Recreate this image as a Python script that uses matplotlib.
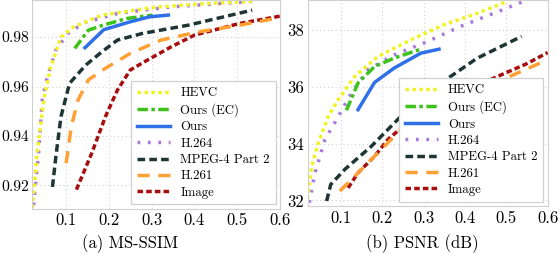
import matplotlib
matplotlib.use('Agg')
import matplotlib.pyplot as plt

plt.rcParams['font.family'] = ['cmr10', 'DejaVu Serif']
plt.rcParams['axes.formatter.use_mathtext'] = True

# MS-SSIM panel
ssim_hevc_x = [0.021, 0.032, 0.048, 0.064, 0.088, 0.116, 0.184, 0.303, 0.42, 0.54]
ssim_hevc_y = [0.911, 0.933, 0.955, 0.968, 0.980, 0.984, 0.9889, 0.992, 0.9935, 0.9945]
ssim_ec_x = [0.12, 0.152, 0.186, 0.241, 0.302]
ssim_ec_y = [0.9754, 0.9828, 0.9848, 0.9875, 0.9889]
ssim_ours_x = [0.144, 0.188, 0.25, 0.295, 0.339]
ssim_ours_y = [0.9757, 0.983, 0.9862, 0.9882, 0.9889]
ssim_h264_x = [0.024, 0.036, 0.044, 0.056, 0.076, 0.104, 0.145, 0.224, 0.345, 0.54]
ssim_h264_y = [0.912, 0.934, 0.9546, 0.964, 0.9748, 0.9815, 0.986, 0.9897, 0.9922, 0.9945]
ssim_mpeg4_x = [0.068, 0.076, 0.088, 0.108, 0.146, 0.184, 0.22, 0.279, 0.385, 0.535]
ssim_mpeg4_y = [0.9194, 0.9317, 0.9479, 0.9613, 0.9687, 0.9741, 0.9788, 0.9815, 0.9848, 0.9909]
ssim_h261_x = [0.1, 0.112, 0.128, 0.152, 0.192, 0.25, 0.322, 0.409, 0.505, 0.61]
ssim_h261_y = [0.929, 0.9438, 0.9546, 0.9627, 0.9674, 0.9734, 0.9788, 0.9821, 0.9848, 0.9882]
ssim_image_x = [0.124, 0.16, 0.192, 0.22, 0.25, 0.29, 0.346, 0.4, 0.505, 0.614]
ssim_image_y = [0.9183, 0.9331, 0.9479, 0.9586, 0.9667, 0.9707, 0.9761, 0.9808, 0.9855, 0.9889]

# PSNR panel
psnr_hevc_x = [0.019, 0.029, 0.045, 0.069, 0.093, 0.133, 0.189, 0.269, 0.349, 0.429, 0.5]
psnr_hevc_y = [32.04, 33.2, 34.02, 34.96, 35.54, 36.36, 37.06, 37.65, 38.18, 38.58, 38.99]
psnr_ec_x = [0.113, 0.141, 0.181, 0.229, 0.293]
psnr_ec_y = [35.17, 36.13, 36.71, 37.01, 37.32]
psnr_ours_x = [0.141, 0.181, 0.229, 0.293, 0.337]
psnr_ours_y = [35.19, 36.15, 36.66, 37.18, 37.32]
psnr_h264_x = [0.023, 0.037, 0.061, 0.089, 0.125, 0.165, 0.229, 0.309, 0.389, 0.469, 0.54]
psnr_h264_y = [31.92, 32.97, 34.14, 34.84, 35.78, 36.6, 37.12, 37.59, 38.12, 38.58, 38.99]
psnr_mpeg4_x = [0.065, 0.075, 0.109, 0.173, 0.245, 0.293, 0.365, 0.429, 0.537]
psnr_mpeg4_y = [31.98, 32.56, 33.09, 33.9, 34.96, 35.54, 36.36, 37.0, 37.77]
psnr_h261_x = [0.097, 0.133, 0.189, 0.237, 0.285, 0.365, 0.445, 0.508, 0.6]
psnr_h261_y = [32.33, 32.85, 33.67, 34.38, 34.96, 35.54, 36.0, 36.36, 36.95]
psnr_image_x = [0.117, 0.141, 0.181, 0.213, 0.241, 0.32, 0.4, 0.469, 0.548, 0.6]
psnr_image_y = [32.44, 32.97, 33.55, 34.14, 34.49, 35.2, 35.8, 36.3, 36.8, 37.2]

labels = ['HEVC', 'Ours (EC)', 'Ours', 'H.264', 'MPEG-4 Part 2', 'H.261', 'Image']
colors = ['#f2f222', '#3cc21a', '#2f6fe8', '#a878dc', '#1f3535', '#ffa035', '#a80d0d']
styles = [(0, (1, 1)), (0, (3, 1, 1, 1)), '-', (0, (0.8, 2.2)),
          (0, (2.2, 1.2)), (0, (3.5, 2.5)), (0, (1.6, 0.9))]

fig = plt.figure(figsize=(5.6, 2.57), dpi=100)
ax1 = fig.add_axes([0.057, 0.187, 0.443, 0.813])
ax2 = fig.add_axes([0.55, 0.198, 0.428, 0.802])

ssim = [(ssim_hevc_x, ssim_hevc_y), (ssim_ec_x, ssim_ec_y), (ssim_ours_x, ssim_ours_y),
        (ssim_h264_x, ssim_h264_y), (ssim_mpeg4_x, ssim_mpeg4_y),
        (ssim_h261_x, ssim_h261_y), (ssim_image_x, ssim_image_y)]
psnr = [(psnr_hevc_x, psnr_hevc_y), (psnr_ec_x, psnr_ec_y), (psnr_ours_x, psnr_ours_y),
        (psnr_h264_x, psnr_h264_y), (psnr_mpeg4_x, psnr_mpeg4_y),
        (psnr_h261_x, psnr_h261_y), (psnr_image_x, psnr_image_y)]

# draw order: baselines behind, ours on top
order = [6, 5, 4, 3, 0, 1, 2]

for ax, data in [(ax1, ssim), (ax2, psnr)]:
    handles = {}
    for i in order:
        x, y = data[i]
        h, = ax.plot(x, y, color=colors[i], linestyle=styles[i], lw=2.5, label=labels[i])
        handles[i] = h
    ax.grid(True, linestyle=(0, (1, 3)), color='#c8c8c8', lw=0.7)
    for s in ax.spines.values():
        s.set_color('#d0d0d0')
        s.set_linewidth(0.8)
    ax.tick_params(length=0, labelsize=12, pad=3)
    ax.set_xlim(0.02, 0.6)
    ax.set_xticks([0.1, 0.2, 0.3, 0.4, 0.5, 0.6])
    ax.set_xticklabels(['0.1', '0.2', '0.3', '0.4', '0.5', '0.6'])
    leg = ax.legend([handles[i] for i in range(7)], labels, loc='lower right',
                    fontsize=9.2, handlelength=2.6, labelspacing=0.33,
                    borderpad=0.45, fancybox=False, framealpha=1,
                    edgecolor='#d0d0d0', borderaxespad=0.35)
    leg.get_frame().set_linewidth(0.9)

ax1.tick_params(axis='y', labelsize=11.3, pad=2)
ax1.set_ylim(0.9105, 0.995)
ax1.set_yticks([0.92, 0.94, 0.96, 0.98])
ax1.set_yticklabels(['0.92', '0.94', '0.96', '0.98'])
ax2.set_ylim(31.8, 39.05)
ax2.set_yticks([32, 34, 36, 38])
ax2.set_yticklabels(['32', '34', '36', '38'])

fig.text(0.232, 0.035, '(a) MS-SSIM', ha='center', fontsize=12)
fig.text(0.755, 0.035, '(b) PSNR (dB)', ha='center', fontsize=12)

fig.savefig('out.png', dpi=100)
